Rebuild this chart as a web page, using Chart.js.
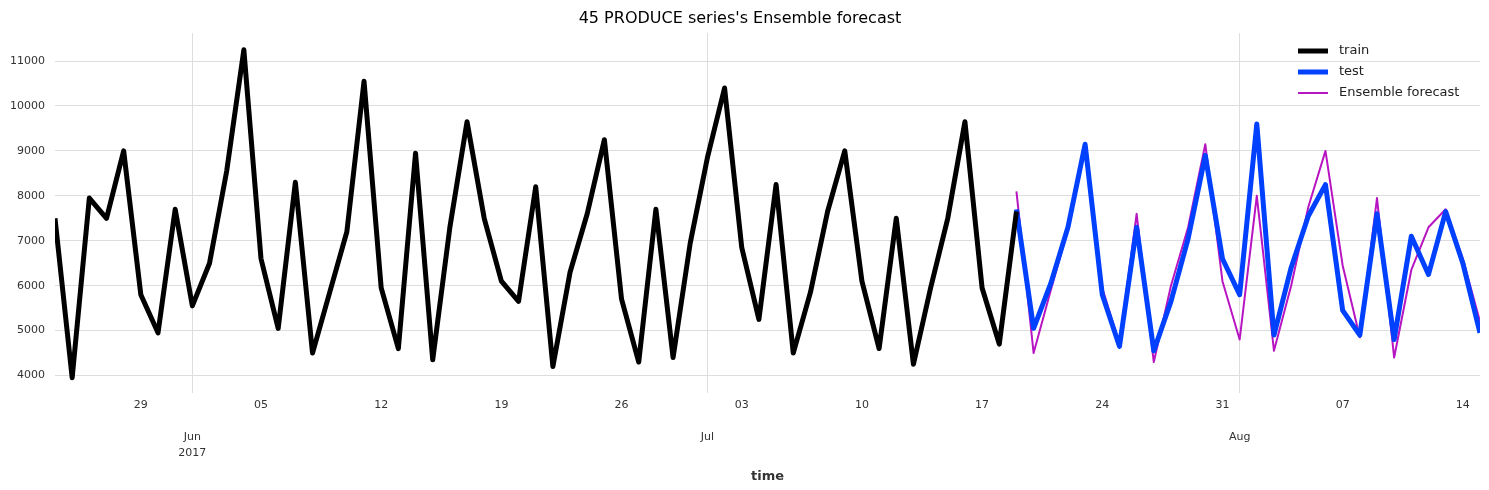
<!DOCTYPE html>
<html><head><meta charset="utf-8">
<script src="https://cdn.jsdelivr.net/npm/chart.js@4"></script>
<style>body{margin:0;background:#fff}#w{width:1489px;height:490px}</style>
</head><body><div id="w"><canvas id="c"></canvas></div>
<script>
// day index 0 = 2017-05-24
const trainValues=[7500,3950,7950,7500,9000,5800,4950,7700,5550,6500,8550,11250,6600,5050,8300,4500,5850,7200,10550,5950,4600,8950,4350,7300,9650,7500,6100,5650,8200,4200,6300,7600,9250,5700,4300,7700,4400,6950,8850,10400,6850,5250,8250,4500,5850,7650,9000,6100,4600,7500,4250,5950,7500,9650,5950,4700,7650];
const testStart=56;
const testValues=[7700,5050,6050,7300,9150,5800,4650,7300,4550,5650,7050,8900,6600,5800,9600,4900,6400,7550,8250,5450,4900,7600,4800,7100,6250,7650,6500,4950];
const forecastValues=[8100,4500,5900,7250,9100,5950,4700,7600,4300,6000,7300,9150,6100,4800,8000,4550,6000,7750,9000,6450,4850,7950,4400,6350,7300,7700,6600,5200];
const tickDays=[5,8,12,19,26,33,38,40,47,54,61,68,69,75,82];
const tickLabels=["29",["","","Jun","2017"],"05","12","19","26",["","","Jul"],"03","10","17","24","31",["","","Aug"],"07","14"];
const monthDays=[8,38,69];
const yTicks=[4000,5000,6000,7000,8000,9000,10000,11000];

const pts=(arr,off)=>arr.map((v,i)=>({x:i+off,y:v}));
const series=[
 {label:'train',data:pts(trainValues,0),borderColor:'#000000',borderWidth:5},
 {label:'test',data:pts(testValues,testStart),borderColor:'#0040ff',borderWidth:5},
 {label:'Ensemble forecast',data:pts(forecastValues,testStart),borderColor:'#b815c2',borderWidth:2}
];
const legendPlugin={id:'lg',afterDraw(ch){
 const c=ch.ctx;const x0=1298,y0=51;
 series.forEach((s,i)=>{const y=y0+i*21;
  c.strokeStyle=s.borderColor;c.lineWidth=s.borderWidth;c.beginPath();c.moveTo(x0,y);c.lineTo(x0+30,y);c.stroke();
  c.fillStyle='#222';c.font='13px "DejaVu Sans"';c.textBaseline='middle';c.fillText(s.label,x0+41,y);});
}};
new Chart(document.getElementById('c'),{
 type:'line',
 data:{datasets:series.map(s=>({...s,pointRadius:0,tension:0,fill:false,borderJoinStyle:'round',borderCapStyle:'butt'}))},
 options:{responsive:true,maintainAspectRatio:false,animation:false,
  layout:{padding:{left:0,right:9,top:0,bottom:0}},
  plugins:{legend:{display:false},tooltip:{enabled:false},
   title:{display:true,text:"45 PRODUCE series's Ensemble forecast",color:'#000',font:{family:'DejaVu Sans',size:16,weight:'normal'},padding:{top:9,bottom:5}}},
  scales:{
   x:{type:'linear',min:0,max:83,
    afterBuildTicks:a=>{a.ticks=tickDays.map(v=>({value:v}));},
    ticks:{autoSkip:false,maxRotation:0,color:'#333',font:{family:'DejaVu Sans',size:11,lineHeight:1.45},padding:5,
     callback:(v)=>{const i=tickDays.indexOf(v);return i<0?'':tickLabels[i];}},
    grid:{drawTicks:false,color:c=>monthDays.includes(c.tick&&c.tick.value)?'#dddddd':'rgba(0,0,0,0)'},
    border:{display:false},
    title:{display:true,text:'time',color:'#333',font:{family:'DejaVu Sans',size:13,weight:'bold'},padding:{top:2,bottom:6}}},
   y:{min:3620,max:11620,
    afterBuildTicks:a=>{a.ticks=yTicks.map(v=>({value:v}));},
    ticks:{color:'#333',font:{family:'DejaVu Sans',size:11},padding:10,callback:v=>String(v)},
    grid:{drawTicks:false,color:'#dddddd'},border:{display:false}}
  }},
 plugins:[legendPlugin]
});
</script></body></html>
